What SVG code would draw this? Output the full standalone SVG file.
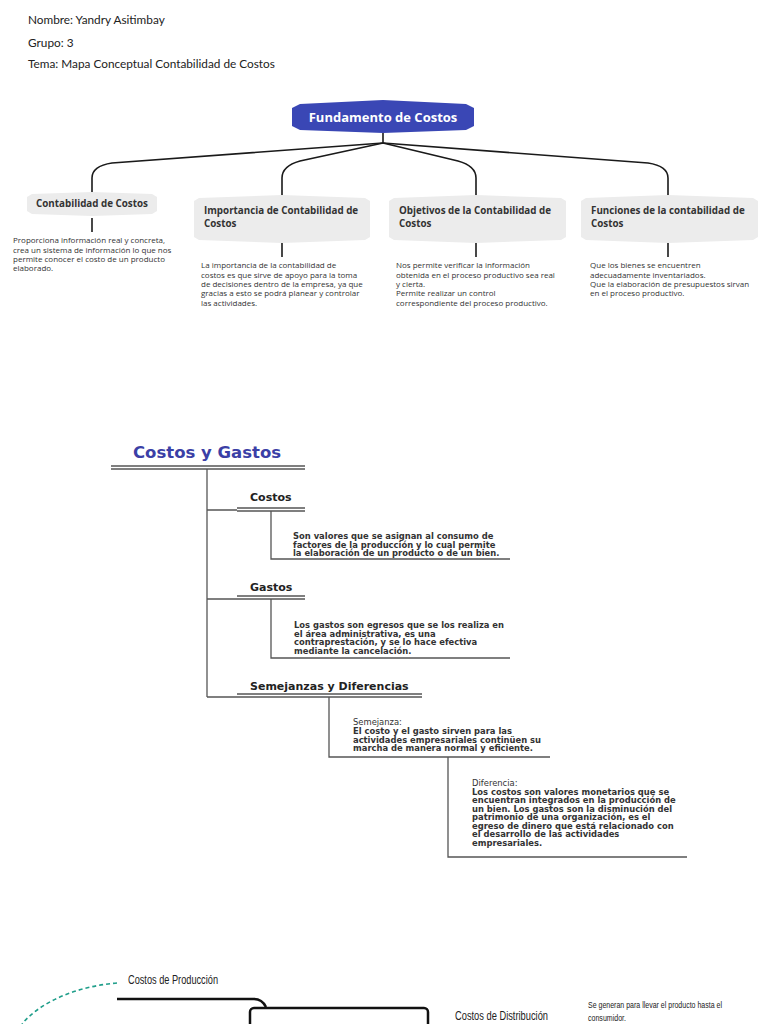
<svg xmlns="http://www.w3.org/2000/svg" width="768" height="1024" viewBox="0 0 768 1024">
<style>
.hdr{font-family:Lato,"Open Sans",sans-serif;font-size:11.8px;fill:#222}
.ttl{font-family:"Open Sans","DejaVu Sans",sans-serif;font-size:9.8px;font-weight:bold;fill:#333}
.desc{font-family:"Open Sans","DejaVu Sans",sans-serif;font-size:8px;fill:#333}
.cg{font-family:"DejaVu Sans",Verdana,sans-serif;font-weight:bold;font-size:8.4px;fill:#333}
.lbl{font-family:"DejaVu Sans",Verdana,sans-serif;font-size:8.4px;fill:#333}
.cgh{font-family:"DejaVu Sans",Verdana,sans-serif;font-size:11px;font-weight:bold;fill:#222}
.ln{stroke:#1a1a1a;stroke-width:1.6;fill:none}
.gl{stroke:#555;stroke-width:1.3;fill:none}
.nar{font-family:"Liberation Sans",Arial,sans-serif;fill:#222}
.box{fill:#ececec}
</style>
<rect width="768" height="1024" fill="#ffffff"/>
<g id="header">
<text class="hdr" x="28" y="24">Nombre: Yandry Asitimbay</text>
<text class="hdr" x="28" y="47">Grupo: 3</text>
<text class="hdr" x="28" y="68">Tema: Mapa Conceptual Contabilidad de Costos</text>
</g>
<g id="connectors">
<path class="ln" d="M383,133 L383,143"/>
<path class="ln" d="M383,143 L112,163 Q92,166 92,178 L92,193"/>
<path class="ln" d="M383,143 L300,161 Q282,166 282,178 L282,197"/>
<path class="ln" d="M383,143 L458,161 Q476,166 476,178 L476,197"/>
<path class="ln" d="M383,143 L648,163 Q668,166 668,178 L668,197"/>
<path class="ln" d="M92,218 L92,232" stroke-width="1.2"/>
<path class="ln" d="M282,243 L282,257" stroke-width="1.2"/>
<path class="ln" d="M476,243 L476,257" stroke-width="1.2"/>
<path class="ln" d="M668,243 L668,257" stroke-width="1.2"/>
<path class="gl" d="M111,466 L305,466 M111,469 L305,469"/>
<path class="gl" d="M207,469 L207,697"/>
<path class="gl" d="M207,510 L237,510 M237,508 L305,508 M237,511 L305,511"/>
<path class="gl" d="M271,511 L271,559 L510,559"/>
<path class="gl" d="M207,599 L237,599 M237,596 L305,596 M237,599 L305,599"/>
<path class="gl" d="M271,599 L271,658 L510,658"/>
<path class="gl" d="M207,697 L237,697 M237,694 L422,694 M237,697 L422,697"/>
<path class="gl" d="M329,697 L329,757 L550,757"/>
<path class="gl" d="M448,757 L448,857 L687,857"/>
<path d="M117,983 C80,986 42,1000 22,1024" fill="none" stroke="#1f9e8a" stroke-width="1.6" stroke-dasharray="4,3"/>
<path d="M117,999 L254,999 Q262,999 266,1007" fill="none" stroke="#111" stroke-width="2.5"/>
</g>
<g id="fundamento">
<polygon points="292,108 300,104 383,100 466,104 474,108 474,126 466,130 383,133 300,130 292,126" fill="#3a47b5"/>
<text x="383" y="122" text-anchor="middle" font-family="'Open Sans','DejaVu Sans',sans-serif" font-size="13" font-weight="bold" fill="#ffffff">Fundamento de Costos</text>
</g>
<g id="contabilidad">
<polygon class="box" points="27,197 32,194 92,192 152,194 157,197 157,211 152,214 92,216 32,214 27,211"/>
<text class="ttl" x="92" y="207" text-anchor="middle">Contabilidad de Costos</text>
<text class="desc" x="13" y="243">Proporciona información real y concreta,</text>
<text class="desc" x="13" y="253">crea un sistema de información lo que nos</text>
<text class="desc" x="13" y="262">permite conocer el costo de un producto</text>
<text class="desc" x="13" y="271">elaborado.</text>
</g>
<g id="importancia">
<polygon class="box" points="194,201 199,198 282,195 365,198 370,201 370,237 365,240 282,243 199,240 194,237"/>
<text class="ttl" x="204" y="214">Importancia de Contabilidad de</text>
<text class="ttl" x="204" y="227">Costos</text>
<text class="desc" x="201" y="268">La importancia de la contabilidad de</text>
<text class="desc" x="201" y="278">costos es que sirve de apoyo para la toma</text>
<text class="desc" x="201" y="287">de decisiones dentro de la empresa, ya que</text>
<text class="desc" x="201" y="296">gracias a esto se podrá planear y controlar</text>
<text class="desc" x="201" y="306">las actividades.</text>
</g>
<g id="objetivos">
<polygon class="box" points="389,201 394,198 476,195 561,198 566,201 566,237 561,240 476,243 394,240 389,237"/>
<text class="ttl" x="399" y="214">Objetivos de la Contabilidad de</text>
<text class="ttl" x="399" y="227">Costos</text>
<text class="desc" x="396" y="268">Nos permite verificar la información</text>
<text class="desc" x="396" y="278">obtenida en el proceso productivo sea real</text>
<text class="desc" x="396" y="287">y cierta.</text>
<text class="desc" x="396" y="296">Permite realizar un control</text>
<text class="desc" x="396" y="306">correspondiente del proceso productivo.</text>
</g>
<g id="funciones">
<polygon class="box" points="581,201 586,198 668,195 753,198 758,201 758,237 753,240 668,243 586,240 581,237"/>
<text class="ttl" x="591" y="214">Funciones de la contabilidad de</text>
<text class="ttl" x="591" y="227">Costos</text>
<text class="desc" x="590" y="268">Que los bienes se encuentren</text>
<text class="desc" x="590" y="278">adecuadamente inventariados.</text>
<text class="desc" x="590" y="287">Que la elaboración de presupuestos sirvan</text>
<text class="desc" x="590" y="296">en el proceso productivo.</text>
</g>
<g id="costos-gastos">
<text x="133" y="458" font-family="'DejaVu Sans',Verdana,sans-serif" font-size="16.5" font-weight="bold" fill="#3b3fa6">Costos y Gastos</text>
</g>
<g id="costos">
<text class="cgh" x="250" y="501">Costos</text>
<text class="cg" x="293" y="539">Son valores que se asignan al consumo de</text>
<text class="cg" x="293" y="547.5">factores de la producción y lo cual permite</text>
<text class="cg" x="293" y="556">la elaboración de un producto o de un bien.</text>
</g>
<g id="gastos">
<text class="cgh" x="250" y="591">Gastos</text>
<text class="cg" x="294" y="628">Los gastos son egresos que se los realiza en</text>
<text class="cg" x="294" y="636.5">el área administrativa, es una</text>
<text class="cg" x="294" y="645">contraprestación, y se lo hace efectiva</text>
<text class="cg" x="294" y="653.5">mediante la cancelación.</text>
</g>
<g id="semejanzas">
<text class="cgh" x="250" y="690">Semejanzas y Diferencias</text>
</g>
<g id="semejanza">
<text class="lbl" x="353" y="725">Semejanza:</text>
<text class="cg" x="353" y="734">El costo y el gasto sirven para las</text>
<text class="cg" x="353" y="742.5">actividades empresariales continüen su</text>
<text class="cg" x="353" y="751">marcha de manera normal y eficiente.</text>
</g>
<g id="diferencia">
<text class="lbl" x="472" y="786">Diferencia:</text>
<text class="cg" x="472" y="794.5">Los costos son valores monetarios que se</text>
<text class="cg" x="472" y="803">encuentran integrados en la producción de</text>
<text class="cg" x="472" y="811.5">un bien. Los gastos son la disminución del</text>
<text class="cg" x="472" y="820">patrimonio de una organización, es el</text>
<text class="cg" x="472" y="828.5">egreso de dinero que está relacionado con</text>
<text class="cg" x="472" y="837">el desarrollo de las actividades</text>
<text class="cg" x="472" y="845.5">empresariales.</text>
</g>
<g id="produccion">
<text class="nar" x="128" y="984" font-size="13" textLength="90" lengthAdjust="spacingAndGlyphs">Costos de Producción</text>
<rect x="250" y="1008" width="178" height="40" rx="4" fill="none" stroke="#111" stroke-width="2.5"/>
</g>
<g id="distribucion">
<text class="nar" x="455" y="1020" font-size="13" textLength="93" lengthAdjust="spacingAndGlyphs">Costos de Distribución</text>
<text class="nar" x="588" y="1008" font-size="9.4" fill="#444" textLength="134" lengthAdjust="spacingAndGlyphs">Se generan para llevar el producto hasta el</text>
<text class="nar" x="588" y="1021" font-size="9.4" fill="#444" textLength="38" lengthAdjust="spacingAndGlyphs">consumidor.</text>
</g>
</svg>
